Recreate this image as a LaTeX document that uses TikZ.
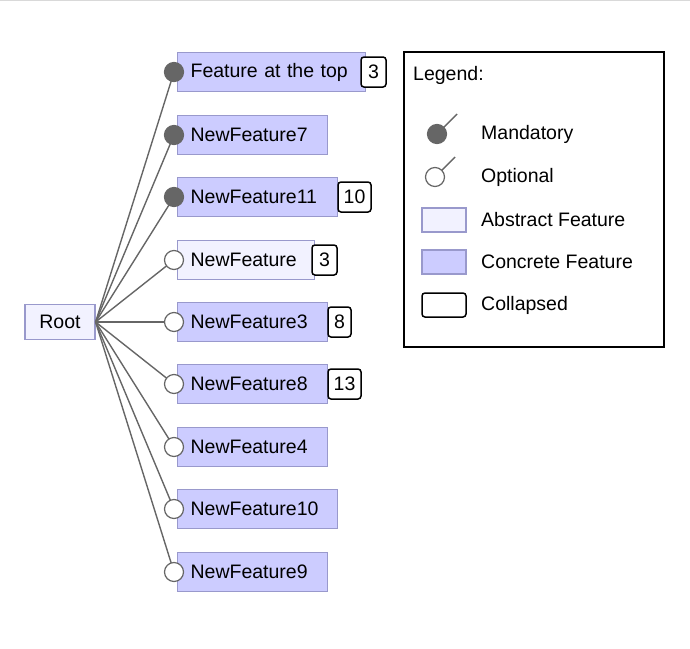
\documentclass[tikz,border=0pt]{standalone}
\usepackage{fontspec}
\setmainfont{Liberation Sans}
\usetikzlibrary{positioning}
\definecolor{concretefill}{HTML}{CCCCFF}
\definecolor{abstractfill}{HTML}{F2F2FF}
\definecolor{boxborder}{HTML}{9999CC}
\definecolor{edgegray}{HTML}{666666}
\tikzset{
  feat/.style={draw=boxborder, line width=1.2pt, fill=concretefill, anchor=west,
    minimum height=39pt, inner xsep=0pt, font=\fontsize{19.5}{22}\selectfont},
  abstr/.style={feat, fill=abstractfill},
  count/.style={draw=black, line width=1.5pt, fill=white, rounded corners=3pt,
    minimum height=30pt, inner xsep=0pt, font=\fontsize{19.5}{22}\selectfont},
  mand/.style={circle, draw=edgegray, fill=edgegray, line width=1.2pt, minimum size=19pt, inner sep=0pt},
  opt/.style={circle, draw=edgegray, fill=white, line width=1.2pt, minimum size=19pt, inner sep=0pt},
  edge/.style={draw=edgegray, line width=1.4pt},
  txt/.style={anchor=west, inner sep=0pt, font=\fontsize{19.5}{22}\selectfont}
}
\begin{document}
\begin{tikzpicture}[x=1pt, y=-1pt]
  \useasboundingbox (0,0) rectangle (690,648);
  \draw[gray!30] (0,0.5) -- (690,0.5);
  % Root
  \node[abstr, anchor=center, minimum width=70pt, minimum height=35pt] (root) at (60,322) {Root};
  % Features
  \foreach \name/\y/\w/\kind/\grp/\txt in {
      f1/72/188/feat/mand/Feature at the top,
      f2/135/150/feat/mand/NewFeature7,
      f3/197/160/feat/mand/NewFeature11,
      f4/260/137/abstr/opt/NewFeature,
      f5/322/150/feat/opt/NewFeature3,
      f6/384/150/feat/opt/NewFeature8,
      f7/447/150/feat/opt/NewFeature4,
      f8/509/160/feat/opt/NewFeature10,
      f9/572/150/feat/opt/NewFeature9}{
    \node[\kind, minimum width=\w pt, text width=\w pt-14pt, align=left, inner xsep=0pt] (\name) at (177,\y) {\hspace*{6pt}\txt};
    \draw[edge] (root.east) -- (174,\y);
    \node[\grp] (\name c) at (174,\y) {};
  }
  % Collapsed counts
  \node[count, minimum width=25pt] (c1) at (373.5,72) {3};
  \node[count, minimum width=33pt] (c3) at (354.5,197) {10};
  \node[count, minimum width=25pt] (c4) at (324.5,260) {3};
  \node[count, minimum width=23pt] (c5) at (339.5,322) {8};
  \node[count, minimum width=33pt] (c6) at (344.5,384) {13};
  % Legend
  \draw[black, line width=1.2pt] (404,52) rectangle (664,347);
  \node[txt] (legend) at (413,75) {Legend:};
  \coordinate (mandtip) at (457,114);
  \draw[edge] (437,134) -- (mandtip);
  \node[mand] (lmand) at (437,134) {};
  \node[txt] at (481,134) {Mandatory};
  \coordinate (opttip) at (455,157);
  \draw[edge] (435,177) -- (opttip);
  \node[opt] (lopt) at (435,177) {};
  \node[txt] at (481,177) {Optional};
  \node[abstr, anchor=center, minimum width=44pt, minimum height=24pt] (labs) at (444,220) {};
  \node[txt] at (481,220) {Abstract Feature};
  \node[feat, anchor=center, minimum width=44pt, minimum height=24pt] (lcon) at (444,262) {};
  \node[txt] at (481,262) {Concrete Feature};
  \node[count, minimum width=44pt, minimum height=24pt] (lcol) at (444,305) {};
  \node[txt] at (481,305) {Collapsed};
\end{tikzpicture}
\end{document}
